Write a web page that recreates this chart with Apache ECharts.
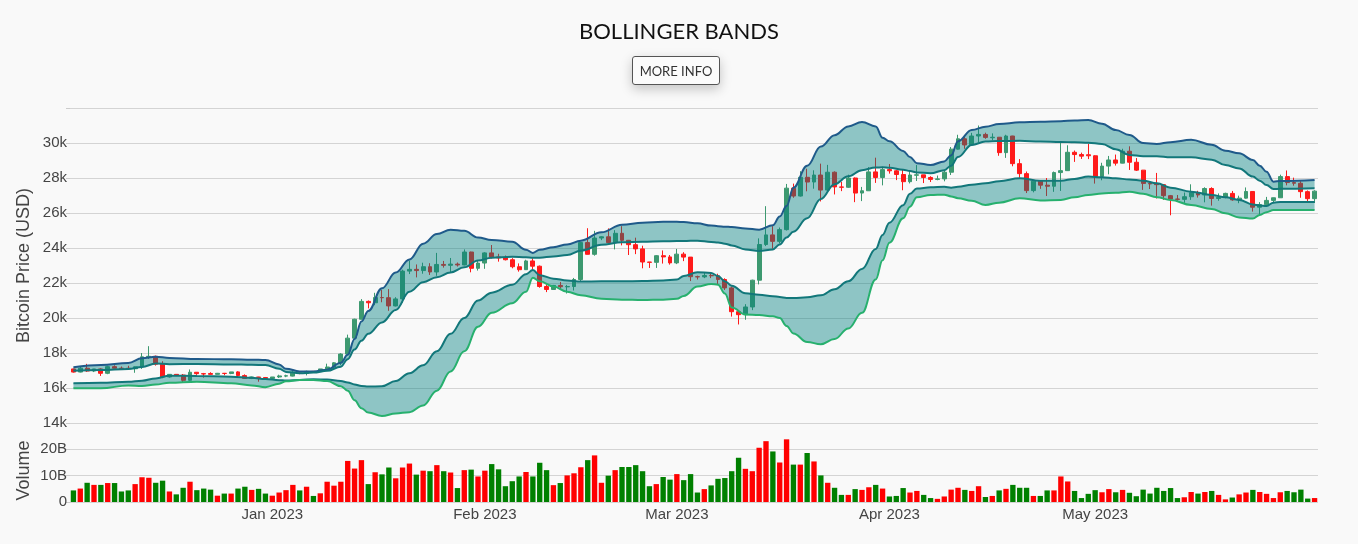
<!DOCTYPE html>
<html>
<head>
<meta charset="utf-8">
<title>Bollinger Bands</title>
<script src="https://cdn.jsdelivr.net/npm/echarts@6/dist/echarts.min.js"></script>
<style>
    html, body { margin: 0; padding: 0; background: #f9f9f9; }
    #wrap { position: relative; width: 1358px; height: 544px; }
    #main { width: 1358px; height: 544px; }
    #more {
        position: absolute; left: 632px; top: 56px; width: 88px; height: 29px;
        background: #fbfbfb; border: 1px solid #555; border-radius: 3px;
        box-shadow: 0 4px 12px rgba(0, 0, 0, 0.22);
        font-family: Lato, "Open Sans", sans-serif; font-size: 13px; color: #333;
        padding: 0; cursor: pointer;
    }
</style>
</head>
<body>
<div id="wrap">
    <div id="main"></div>
    <button id="more">MORE INFO</button>
</div>
<script>
// daily candles from 2022-12-03, in thousands of USD: [open, high, low, close]
var START_DAY = [2022, 11, 3];
var OHLC = [
    [17.09,17.10,16.88,16.91],[16.91,17.20,16.89,17.13],[17.13,17.38,16.92,16.97],[16.97,17.09,16.91,17.09],[17.09,17.13,16.69,16.84],
    [16.84,17.27,16.79,17.22],[17.22,17.30,17.12,17.13],[17.13,17.23,17.12,17.12],[17.13,17.27,17.09,17.10],[17.10,17.24,16.87,17.21],
    [17.21,18.00,17.09,17.78],[17.78,18.39,17.66,17.81],[17.81,17.85,17.28,17.36],[17.36,17.53,16.56,16.63],[16.63,16.80,16.59,16.78],
    [16.78,16.80,16.68,16.74],[16.74,16.80,16.30,16.44],[16.44,17.06,16.40,16.90],[16.90,16.91,16.75,16.82],[16.82,16.86,16.59,16.80],
    [16.83,16.90,16.77,16.78],[16.78,16.86,16.78,16.84],[16.84,16.86,16.73,16.83],[16.83,16.92,16.79,16.92],[16.92,16.96,16.62,16.71],
    [16.71,16.78,16.53,16.55],[16.55,16.65,16.51,16.63],[16.63,16.64,16.36,16.60],[16.60,16.63,16.49,16.55],[16.55,16.63,16.50,16.63],
    [16.63,16.76,16.57,16.69],[16.68,16.76,16.62,16.70],[16.68,16.96,16.66,16.85],[16.85,16.88,16.79,16.83],[16.83,16.99,16.72,16.95],
    [16.95,16.97,16.91,16.94],[16.94,17.09,16.92,17.09],[17.09,17.39,17.09,17.20],[17.20,17.48,17.19,17.44],[17.44,17.99,17.31,17.94],
    [17.94,19.05,17.94,18.85],[18.85,19.96,18.78,19.93],[19.93,21.08,19.91,20.95],[20.95,21.00,20.55,20.87],[20.87,21.44,20.73,21.17],
    [21.17,21.60,20.90,21.16],[21.16,21.65,20.41,20.69],[20.69,21.19,20.66,21.09],[21.09,22.76,20.87,22.68],[22.68,23.28,22.51,22.78],
    [22.78,23.06,22.32,22.71],[22.71,23.16,22.53,22.93],[22.93,23.13,22.46,22.63],[22.63,23.72,22.41,23.06],[23.06,23.26,22.88,23.01],
    [23.01,23.43,22.60,23.08],[23.08,23.17,22.94,23.03],[23.03,23.92,23.01,23.77],[23.77,23.79,22.61,22.84],[22.84,23.26,22.71,23.14],
    [23.14,23.76,22.81,23.72],[23.72,24.17,23.40,23.49],[23.49,23.67,23.22,23.43],[23.43,23.57,23.29,23.33],[23.33,23.42,22.84,22.93],
    [22.93,23.12,22.65,22.76],[22.76,23.33,22.75,23.26],[23.26,23.41,22.77,22.96],[22.96,23.00,21.73,21.80],[21.80,21.91,21.48,21.63],
    [21.63,21.89,21.60,21.86],[21.86,22.06,21.64,21.79],[21.78,21.89,21.40,21.80],[21.80,22.29,21.57,22.20],[22.20,24.31,22.07,24.31],
    [24.31,25.13,23.63,23.64],[23.64,24.98,23.56,24.57],[24.57,24.67,24.45,24.64],[24.64,25.12,24.29,24.31],[24.31,25.02,23.92,24.84],
    [24.84,25.25,24.15,24.44],[24.44,24.46,23.60,24.19],[24.19,24.59,23.65,23.95],[23.95,24.13,22.84,23.20],[23.20,23.20,22.86,23.18],
    [23.18,23.59,22.86,23.56],[23.56,23.86,23.11,23.49],[23.49,23.60,23.05,23.15],[23.15,23.95,23.08,23.65],[23.65,23.76,23.25,23.48],
    [23.48,23.48,22.11,22.36],[22.36,22.42,22.20,22.35],[22.35,22.60,22.28,22.43],[22.43,22.55,22.28,22.41],[22.41,22.53,21.93,22.20],
    [22.20,22.27,21.60,21.72],[21.72,21.80,20.08,20.36],[20.36,20.37,19.63,20.19],[20.19,20.79,19.90,20.63],[20.63,22.19,20.45,22.16],
    [22.16,24.55,21.92,24.20],[24.20,26.39,24.11,24.75],[24.75,25.25,23.96,24.38],[24.38,25.17,24.26,25.05],[25.05,27.66,25.00,27.42],
    [27.42,27.68,26.87,26.97],[26.97,28.39,26.94,28.04],[28.04,28.53,27.24,27.77],[27.77,28.44,27.39,28.17],[28.17,28.82,26.66,27.31],
    [27.31,28.75,27.17,28.33],[28.33,28.38,27.06,27.49],[27.49,27.78,27.25,27.47],[27.47,28.19,27.44,28.00],[28.00,28.03,26.62,27.14],
    [27.14,27.49,26.68,27.27],[27.27,28.62,27.26,28.35],[28.35,29.16,27.72,28.03],[28.03,28.64,27.58,28.48],[28.48,28.80,28.25,28.41],
    [28.41,28.46,27.88,28.20],[28.20,28.49,27.30,27.79],[27.79,28.43,27.69,28.17],[28.16,28.74,27.83,28.18],[28.18,28.18,27.71,28.03],
    [28.03,28.10,27.77,27.92],[27.92,28.14,27.87,27.95],[27.95,28.47,27.81,28.33],[28.33,29.77,28.17,29.65],[29.65,30.47,29.63,30.24],
    [30.24,30.41,29.67,29.89],[29.89,30.58,29.87,30.40],[30.40,31.00,30.05,30.49],[30.49,30.59,30.24,30.32],[30.30,30.55,30.16,30.33],
    [30.33,30.33,29.27,29.45],[29.45,30.47,29.15,30.40],[30.40,30.41,28.67,28.82],[28.82,29.08,28.01,28.25],[28.25,28.37,27.14,27.28],
    [27.28,27.88,27.18,27.82],[27.82,27.82,27.38,27.59],[27.59,28.00,26.97,27.53],[27.53,28.37,27.21,28.31],[28.31,30.02,27.26,28.42],
    [28.42,29.87,28.40,29.47],[29.47,29.57,28.92,29.34],[29.34,29.45,29.09,29.25],[29.33,29.95,29.08,29.27],[29.27,29.30,27.68,28.09],
    [28.09,28.87,27.87,28.68],[28.68,29.26,28.21,29.03],[29.03,29.34,28.71,28.85],[28.85,29.67,28.84,29.53],[29.53,29.81,28.46,28.90],
    [28.90,29.14,28.40,28.45],[28.45,28.45,27.32,27.69],[27.69,27.82,27.37,27.66],[27.66,28.29,26.83,27.62],[27.62,27.62,26.75,26.99],
    [26.99,27.03,25.87,26.80],[26.80,27.03,26.70,26.78],[26.78,27.17,26.58,26.93],[26.93,27.64,26.75,27.16],[27.16,27.27,26.88,27.03],
    [27.03,27.47,26.61,27.40],[27.40,27.47,26.42,26.83],[26.83,27.12,26.70,26.89],[26.89,27.16,26.84,27.12],[27.12,27.26,26.70,26.75],
    [26.75,26.99,26.56,26.85],[26.85,27.46,26.82,27.23],[27.23,27.23,26.08,26.33],[26.33,26.62,25.88,26.48],[26.48,26.92,26.36,26.72],
    [26.72,26.88,26.61,26.87],[26.87,28.19,26.86,28.08],[28.08,28.43,27.58,27.74],[27.74,28.02,27.56,27.70],[27.70,27.82,26.87,27.22],
    [27.22,27.29,26.63,26.82],[26.82,27.30,26.57,27.25]
];

// volume in billions, one per day, and its bar colour (r / g)
var VOLUME = [
    4.4,5.1,7.3,6.5,6.5,7.2,7.2,4.0,4.4,6.8, 9.4,9.2,7.3,8.1,4.0,2.9,5.4,7.7,4.5,5.1,
    4.7,2.4,3.2,3.2,5.1,5.8,4.6,5.0,3.2,2.4, 3.6,4.5,6.5,4.4,5.8,2.3,3.3,7.7,6.2,7.7,
    15.6,12.7,15.9,6.8,11.3,10.5,13.1,9.0,13.1,14.6, 10.4,11.9,11.7,14.0,11.7,11.2,5.3,12.1,12.3,9.7,
    11.9,14.4,12.4,6.0,7.9,9.7,11.4,9.7,14.9,12.1, 6.4,7.2,10.1,10.9,13.2,15.9,17.7,7.3,10.0,12.1,
    13.3,13.3,14.0,11.7,6.0,6.8,9.5,8.5,10.6,8.3, 10.6,3.6,4.9,6.3,8.8,9.1,11.7,16.8,12.6,11.7,
    20.6,23.1,19.2,15.0,23.8,14.2,14.2,18.6,15.4,10.1, 7.3,5.4,2.7,2.7,4.9,4.6,5.6,6.5,5.1,2.1,
    2.3,5.3,3.6,4.2,2.7,1.5,1.2,2.1,4.7,5.4, 4.6,4.2,6.0,1.9,2.3,4.4,5.0,6.5,5.4,5.4,
    2.3,2.3,4.4,4.4,9.7,7.8,4.2,1.5,3.1,4.5, 3.7,4.9,3.7,4.6,3.5,2.2,4.7,3.2,5.4,4.2,
    5.3,1.5,1.8,3.8,3.2,3.8,4.2,2.7,1.0,1.7, 2.9,3.6,4.6,3.8,3.1,1.5,3.7,4.2,3.7,4.7,
    1.3,1.5
];
var VOL_DIR = "grgrgrgggr" + "rrggrggrgg" + "grgrggrggr" + "rrrgrgrrrr" + "rrrgrggrrr" + "grgrgrgrgr" +
    "rgggggrggg" + "rgrrrgrrgr" + "gggggrggrg" + "ggrgggggrr" + "rrgrrgrgrg" + "rggrgrrgrg" +
    "ggrrggrrrr" + "grrgrgrggg" + "rggrrrgggg" + "rrgrgggggg" + "ggrrgrgrrg" + "rrgrrrrggg" + "gr";

// band lines at these day indexes (thousands USD)
var BAND_X = [0,4,8,10,12,14,18,23,26,28, 30,31,33,35,37,39,40,41,42,43, 45,47,49,51,53,55,57,59,61,64,
    66,67,68,70,72,74,77,80,83,86, 88,89,91,93,94,95,96,98,100,102, 103,104,105,107,109,111,113,115,117,118,
    119,121,122,123,125,127,128,129,131,133, 135,138,141,144,146,148,150,152,154,156,
    158,160,163,166,168,170,172,173,174,175, 176,181];
var UPPER_OUT = [17.18,17.31,17.43,17.70,17.79,17.72,17.66,17.64,17.62,17.60,
    17.35,17.10,16.95,16.95,17.05,17.45,17.90,18.80,19.80,20.40,
    21.70,22.60,23.35,24.25,24.80,25.05,24.98,24.60,24.46,24.36,
    23.90,23.72,23.90,24.05,24.20,24.42,24.90,25.33,25.45,25.50,
    25.50,25.48,25.41,25.28,25.25,25.22,25.20,25.12,25.05,25.30,
    25.80,26.40,27.45,28.70,29.80,30.45,30.95,31.20,30.95,30.30,
    30.10,29.55,29.20,28.85,28.74,28.95,29.30,30.10,30.74,30.93,
    31.09,31.18,31.22,31.25,31.28,31.31,31.10,30.74,30.46,30.00,
    29.95,30.05,30.18,29.90,29.56,29.41,29.03,28.70,28.36,27.79,
    27.83,27.89];
var UPPER_IN = [16.99,17.03,17.09,17.20,17.40,17.36,17.37,17.35,17.33,17.31,
    17.10,16.92,16.84,16.88,16.98,17.22,17.65,18.20,18.70,19.10,
    19.75,20.46,21.50,22.05,22.33,22.60,22.90,23.28,23.45,23.50,
    23.47,23.45,23.45,23.52,23.60,23.85,24.18,24.33,24.36,24.38,
    24.40,24.40,24.42,24.35,24.32,24.25,24.15,23.92,23.83,23.92,
    24.20,24.60,24.93,25.70,26.80,27.65,28.10,28.45,28.60,28.61,
    28.58,28.47,28.40,28.32,28.27,28.45,28.70,29.20,29.89,30.08,
    30.11,30.13,30.08,30.06,30.04,30.02,29.94,29.64,29.31,29.25,
    29.25,29.18,29.18,29.05,28.74,28.55,28.08,27.85,27.60,27.37,
    27.38,27.41];
var LOWER_IN = [16.27,16.30,16.36,16.42,16.55,16.70,16.69,16.65,16.58,16.51,
    16.45,16.43,16.46,16.50,16.48,16.40,16.32,16.20,16.12,16.08,
    16.10,16.40,16.85,17.30,18.10,19.10,20.00,21.00,21.45,21.90,
    22.50,22.74,22.45,22.25,22.15,22.08,22.10,22.10,22.11,22.15,
    22.20,22.40,22.62,22.57,22.40,22.10,21.85,21.42,21.33,21.25,
    21.20,21.15,21.14,21.18,21.30,21.65,22.10,22.80,23.95,24.75,
    25.45,26.45,27.10,27.40,27.47,27.50,27.45,27.50,27.62,27.70,
    27.82,27.98,27.84,27.85,27.95,28.08,28.04,27.98,27.92,27.85,
    27.70,27.45,27.22,27.03,26.90,26.75,26.48,26.43,26.40,26.59,
    26.63,26.63];
var LOWER_OUT = [15.98,15.98,16.15,16.12,16.20,16.30,16.36,16.27,16.15,16.05,
    16.25,16.38,16.46,16.46,16.40,16.10,15.85,15.30,14.85,14.60,
    14.40,14.55,14.62,15.00,15.85,16.95,18.10,19.50,20.30,20.85,
    21.50,22.30,22.10,21.80,21.50,21.30,21.10,21.05,21.03,21.05,
    21.10,21.26,21.80,21.95,21.90,21.40,20.60,20.20,20.17,20.10,
    20.00,19.55,19.12,18.63,18.50,18.80,19.40,20.30,22.20,23.30,
    24.30,25.70,26.36,26.90,27.03,27.05,26.95,26.85,26.70,26.46,
    26.59,26.84,26.72,26.75,26.90,27.03,27.12,27.16,27.22,27.10,
    26.90,26.74,26.46,26.23,25.98,25.75,25.69,25.89,26.05,26.17,
    26.17,26.17];

var TICK_DATES = ['2023-01-01', '2023-02-01', '2023-03-01', '2023-04-01', '2023-05-01'];
var TICK_LABELS = ['Jan 2023', 'Feb 2023', 'Mar 2023', 'Apr 2023', 'May 2023'];

var FONT = '"Liberation Sans", Arial, sans-serif';
var FILL = 'rgba(0, 128, 128, 0.43)';

window.onload = function () {
    drawChart();
};

function makeDates() {
    var list = [];
    var t0 = Date.UTC(START_DAY[0], START_DAY[1], START_DAY[2]);
    for (var i = 0; i < OHLC.length; i++) {
        list.push(new Date(t0 + i * 86400000).toISOString().slice(0, 10));
    }
    return list;
}

function pairs(values) {
    return BAND_X.map(function (x, k) { return [x, values[k]]; });
}

function gaps(top, bottom) {
    return BAND_X.map(function (x, k) { return [x, +(top[k] - bottom[k]).toFixed(2)]; });
}

function bandLine(name, values, color) {
    return {
        name: name, type: 'line', xAxisIndex: 0, yAxisIndex: 0,
        data: pairs(values), smooth: 0.4, smoothMonotone: 'x', symbol: 'none',
        lineStyle: { color: color, width: 2 }, silent: true, z: 4
    };
}

function bandFill(stack, base, diff) {
    return [{
        type: 'line', stack: stack, xAxisIndex: 0, yAxisIndex: 0, data: base,
        smooth: 0.4, smoothMonotone: 'x', symbol: 'none', lineStyle: { opacity: 0 }, silent: true, z: 3
    }, {
        type: 'line', stack: stack, xAxisIndex: 0, yAxisIndex: 0, data: diff,
        smooth: 0.4, smoothMonotone: 'x', symbol: 'none', lineStyle: { opacity: 0 },
        areaStyle: { color: FILL, opacity: 1 }, silent: true, z: 3
    }];
}

function drawChart() {
    var myChart = echarts.init(document.getElementById('main'));
    var dates = makeDates();

    // echarts wants [open, close, low, high]
    var candles = OHLC.map(function (r) { return [r[0], r[3], r[2], r[1]]; });
    var vols = VOLUME.map(function (v, i) {
        return { value: v, itemStyle: { color: VOL_DIR.charAt(i) === 'r' ? '#ff0000' : '#008000' } };
    });

    var series = [{
        name: 'Price', type: 'candlestick', xAxisIndex: 0, yAxisIndex: 0,
        data: candles, barWidth: '62%', silent: true, z: 2,
        itemStyle: {
            color: '#3D9970', color0: '#ff1a1a',
            borderColor: '#3D9970', borderColor0: '#ff1a1a', borderWidth: 1
        }
    }];
    series = series.concat(bandFill('upper', pairs(UPPER_IN), gaps(UPPER_OUT, UPPER_IN)));
    series = series.concat(bandFill('lower', pairs(LOWER_OUT), gaps(LOWER_IN, LOWER_OUT)));
    series.push(bandLine('Upper', UPPER_OUT, '#1f5a8a'));
    series.push(bandLine('Upper inner', UPPER_IN, '#12777a'));
    series.push(bandLine('Lower inner', LOWER_IN, '#12777a'));
    series.push(bandLine('Lower', LOWER_OUT, '#27b06e'));
    series.push({
        name: 'Volume', type: 'bar', xAxisIndex: 1, yAxisIndex: 1,
        data: vols, barWidth: '78%', silent: true
    });

    var yLabel = { fontSize: 15, color: '#444', fontFamily: FONT, margin: 3 };
    var yTick = { show: true, length: 4, lineStyle: { color: '#cccccc' } };
    var split = { show: true, lineStyle: { color: '#d4d4d4', width: 1 } };

    var options = {
        backgroundColor: '#f9f9f9',
        animation: false,
        title: {
            text: 'BOLLINGER BANDS', left: 'center', top: 16,
            textStyle: { fontFamily: 'Lato, sans-serif', fontSize: 22, fontWeight: 'normal', color: '#111' }
        },
        grid: [
            { left: 70, right: 40, top: 108, height: 315, outerBoundsMode: 'none', containLabel: false },
            { left: 70, right: 40, top: 423, height: 79, outerBoundsMode: 'none', containLabel: false }
        ],
        xAxis: [{
            type: 'category', gridIndex: 0, data: dates, boundaryGap: true,
            axisLine: { show: false }, axisTick: { show: false }, axisLabel: { show: false }, splitLine: { show: false }
        }, {
            type: 'category', gridIndex: 1, data: dates, boundaryGap: true,
            axisLine: { show: false }, axisTick: { show: false }, splitLine: { show: false },
            axisLabel: {
                fontSize: 15, color: '#444', fontFamily: FONT, margin: 5,
                interval: function (idx, val) { return TICK_DATES.indexOf(val) >= 0; },
                formatter: function (val) { return TICK_LABELS[TICK_DATES.indexOf(val)]; }
            }
        }],
        yAxis: [{
            type: 'value', gridIndex: 0, min: 14, max: 32, interval: 2,
            name: 'Bitcoin Price (USD)', nameLocation: 'middle', nameGap: 37, nameMoveOverlap: false,
            nameTextStyle: { fontSize: 18, color: '#444', fontFamily: FONT },
            axisLine: { show: false }, axisTick: yTick, splitLine: split,
            axisLabel: Object.assign({}, yLabel, {
                formatter: function (v) { return v === 32 ? '' : v + 'k'; }
            })
        }, {
            type: 'value', gridIndex: 1, min: 0, max: 30, interval: 10,
            name: 'Volume', nameLocation: 'middle', nameGap: 37, nameMoveOverlap: false,
            nameTextStyle: { fontSize: 18, color: '#444', fontFamily: FONT, padding: [0, 16, 0, 0] },
            axisLine: { show: false }, axisTick: yTick, splitLine: split,
            axisLabel: Object.assign({}, yLabel, {
                formatter: function (v) { return v === 30 ? '' : (v === 0 ? '0' : v + 'B'); }
            })
        }],
        series: series
    };
    myChart.setOption(options);
}
</script>
</body>
</html>
